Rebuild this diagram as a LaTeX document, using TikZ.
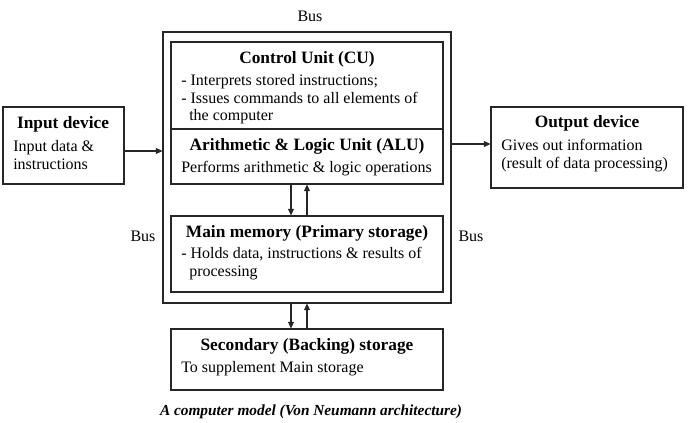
\documentclass[tikz,border=0pt]{standalone}
\usepackage{fontspec}
\setmainfont{Liberation Serif}
\usetikzlibrary{arrows.meta,calc}

\newcommand{\boxlines}[1]{\begin{tabular}[t]{@{}l@{}}#1\end{tabular}}

\begin{document}
\begin{tikzpicture}[x=0.75pt,y=-0.75pt,
    box/.style={draw=black!85, line width=0.8pt, inner sep=0pt},
    title/.style={anchor=base, inner sep=0pt, font=\fontsize{13}{15}\selectfont\bfseries},
    body/.style={anchor=base west, inner sep=0pt, font=\fontsize{12}{13.3}\selectfont},
    buslbl/.style={anchor=base, inner sep=0pt, font=\fontsize{12}{14}\selectfont},
    arr/.style={draw=black!85, line width=0.8pt, -{Triangle[length=5pt,width=4.5pt]}}]
                \useasboundingbox (0,0) rectangle (688,423);

                % boxes
                \node[box, minimum width=216pt, minimum height=203.25pt] (bus) at (307,167.5) {};
                \node[box, minimum width=90.75pt, minimum height=57.75pt] (input) at (63.5,145.5) {};
                \node[box, minimum width=144pt, minimum height=60.75pt] (output) at (587,147.5) {};
                \node[box, minimum width=204pt, minimum height=65.25pt] (cu) at (307,85.5) {};
                \node[box, minimum width=204pt, minimum height=41.25pt] (alu) at (307,156.5) {};
                \node[box, minimum width=204pt, minimum height=57pt] (mm) at (307,254) {};
                \node[box, minimum width=204pt, minimum height=45.75pt] (sec) at (307,359.5) {};

                % texts
                \node[title] (inputT) at (63,129) {Input device};
                \node[body] (inputB) at (13,152) {\boxlines{Input data \&\\instructions}};

                \node[title] (cuT) at (307,63.5) {Control Unit (CU)};
                \node[body] (cuB) at (181,85.5) {\boxlines{- Interprets stored instructions;\\- Issues commands to all elements of\\\hspace*{6pt}the computer}};

                \node[title] (aluT) at (307,151) {Arithmetic \& Logic Unit (ALU)};
                \node[body] (aluB) at (181,173) {Performs arithmetic \& logic operations};

                \node[title] (mmT) at (307,238) {Main memory (Primary storage)};
                \node[body] (mmB) at (181,259) {\boxlines{- Holds data, instructions \& results of\\\hspace*{6pt}processing}};

                \node[title] (secT) at (307,351) {Secondary (Backing) storage};
                \node[body] (secB) at (181,373) {To supplement Main storage};

                \node[title] (outputT) at (587,128) {Output device};
                \node[body] (outputB) at (501,151) {\boxlines{Gives out information\\(result of data processing)}};

                \node[buslbl] (busTop) at (310,22) {Bus};
                \node[buslbl] (busLeft) at (143,242) {Bus};
                \node[buslbl] (busRight) at (471,242) {Bus};

                \node[anchor=base, inner sep=0pt, font=\fontsize{11.5}{14}\selectfont\bfseries\itshape] (caption) at (311,415.5) {A computer model (Von Neumann architecture)};

                % connectors
                \coordinate (inA) at ($(input.east)+(0,5.5)$);
                \coordinate (outA) at ($(output.west)+(0,-3.5)$);
                \draw[arr] (inA) -- (inA -| bus.west);
                \draw[arr] (outA -| bus.east) -- (outA);

                \draw[arr] ($(alu.south)+(-16,0)$) -- ($(mm.north)+(-16,0)$);
                \draw[arr] (mm.north) -- (alu.south);

                \draw[arr] ($(bus.south)+(-16,0)$) -- ($(sec.north)+(-16,0)$);
                \draw[arr] (sec.north) -- (bus.south);
            \end{tikzpicture}
\end{document}
